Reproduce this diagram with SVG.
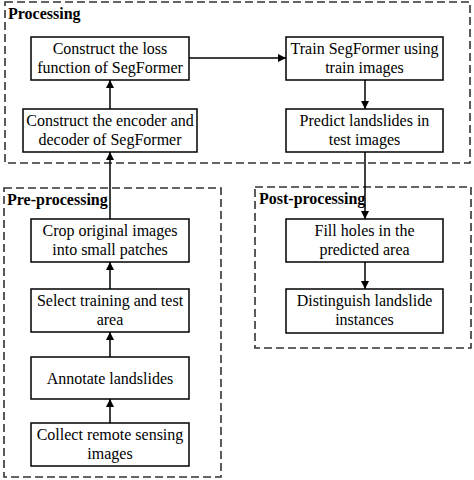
<svg xmlns="http://www.w3.org/2000/svg" width="474" height="480" viewBox="0 0 474 480">
<defs>
<marker id="ah" viewBox="0 0 10 10" refX="10" refY="5" markerWidth="8" markerHeight="8" markerUnits="userSpaceOnUse" orient="auto">
<path d="M0,0 L10,5 L0,10 z" fill="#000"/>
</marker>
</defs>
<style>
.grp{fill:none;stroke:#333;stroke-width:1.6;stroke-dasharray:8,4}
.box{fill:#fff;stroke:#000;stroke-width:1.5}
text{font-family:'Liberation Serif','Times New Roman','DejaVu Serif',serif;font-size:16px;fill:#000}
.t{text-anchor:middle}
.h{font-weight:bold}
.c{stroke:#000;stroke-width:1.5;fill:none;marker-end:url(#ah)}
</style>
<g id="group-processing" font-family="Liberation Serif, serif">
<rect class="grp" x="5" y="2" width="465" height="161"/>
<text class="h" x="8" y="19">Processing</text>
</g>
<g id="group-preprocessing">
<rect class="grp" x="4" y="188" width="217" height="289"/>
<text class="h" x="7" y="205">Pre-processing</text>
</g>
<g id="group-postprocessing">
<rect class="grp" x="255" y="187" width="216" height="161"/>
<text class="h" x="259" y="204">Post-processing</text>
</g>
<g id="connectors">
<path class="c" d="M189,58 H286"/>
<path class="c" d="M110,109 V80"/>
<path class="c" d="M365,80 V109"/>
<path class="c" d="M365,152 V219"/>
<path class="c" d="M365,262 V289"/>
<path class="c" d="M110,219 V152"/>
<path class="c" d="M110,289 V262"/>
<path class="c" d="M110,357 V332"/>
<path class="c" d="M110,423 V399"/>
</g>
<g id="n-loss">
<rect class="box" x="31" y="37" width="158" height="43"/>
<text class="t" x="110" y="54">Construct the loss</text>
<text class="t" x="110" y="73">function of SegFormer</text>
</g>
<g id="n-encoder">
<rect class="box" x="23" y="109" width="174" height="43"/>
<text class="t" x="110" y="126">Construct the encoder and</text>
<text class="t" x="110" y="145">decoder of SegFormer</text>
</g>
<g id="n-train">
<rect class="box" x="286" y="37" width="157" height="43"/>
<text class="t" x="364.5" y="54">Train SegFormer using</text>
<text class="t" x="364.5" y="73">train images</text>
</g>
<g id="n-predict">
<rect class="box" x="286" y="109" width="157" height="43"/>
<text class="t" x="364.5" y="126">Predict landslides in</text>
<text class="t" x="364.5" y="145">test images</text>
</g>
<g id="n-fill">
<rect class="box" x="286" y="219" width="157" height="43"/>
<text class="t" x="364.5" y="236">Fill holes in the</text>
<text class="t" x="364.5" y="255">predicted area</text>
</g>
<g id="n-distinguish">
<rect class="box" x="286" y="289" width="157" height="44"/>
<text class="t" x="364.5" y="306">Distinguish landslide</text>
<text class="t" x="364.5" y="325">instances</text>
</g>
<g id="n-crop">
<rect class="box" x="31" y="219" width="158" height="43"/>
<text class="t" x="110" y="236">Crop original images</text>
<text class="t" x="110" y="255">into small patches</text>
</g>
<g id="n-select">
<rect class="box" x="31" y="289" width="158" height="43"/>
<text class="t" x="110" y="306">Select training and test</text>
<text class="t" x="110" y="325">area</text>
</g>
<g id="n-annotate">
<rect class="box" x="31" y="357" width="158" height="42"/>
<text class="t" x="110" y="384">Annotate landslides</text>
</g>
<g id="n-collect">
<rect class="box" x="31" y="423" width="158" height="43"/>
<text class="t" x="110" y="440">Collect remote sensing</text>
<text class="t" x="110" y="459">images</text>
</g>
</svg>
